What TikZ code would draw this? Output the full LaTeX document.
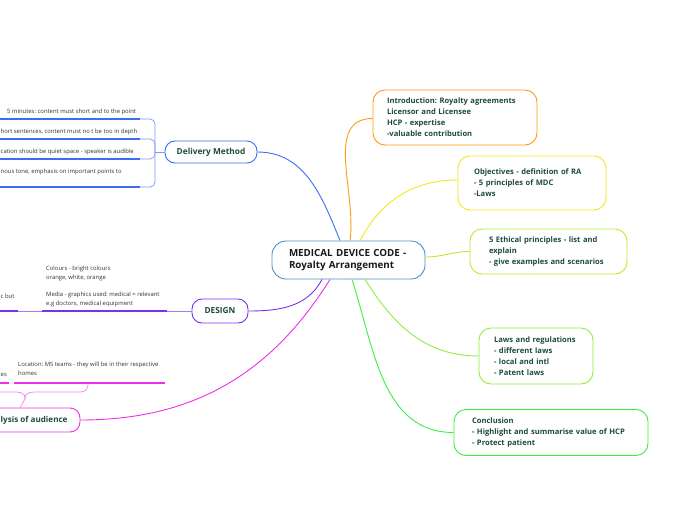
\documentclass[tikz,border=0pt]{standalone}
\usepackage{fontspec}
\setmainfont{Open Sans}
\usetikzlibrary{calc}
\frenchspacing
\definecolor{tgreen}{HTML}{1D4B3A}
\definecolor{tgray}{HTML}{333333}
\definecolor{cblue}{HTML}{3D6CF5}
\definecolor{cbluelt}{HTML}{7E9BF7}
\definecolor{cpurple}{HTML}{7B30EE}
\definecolor{cpurplelt}{HTML}{A37BF3}
\definecolor{cmag}{HTML}{EA30EA}
\definecolor{cmaglt}{HTML}{F080F0}
\definecolor{corange}{HTML}{FF9A10}
\definecolor{cyellow}{HTML}{F5E61A}
\definecolor{cyg}{HTML}{B5EE2A}
\definecolor{clg}{HTML}{8CEE3A}
\definecolor{cgreen}{HTML}{3DEE3D}
\definecolor{ccenter}{HTML}{4A90C8}
\begin{document}
\frenchspacing
\begin{tikzpicture}[x=1pt,y=-1pt,
  topic/.style={draw, line width=0.9pt, rounded corners=12pt, fill=white, align=left,
    text=tgreen, font=\bfseries\fontsize{7.6}{11}\selectfont, inner xsep=14pt, inner ysep=0pt},
  branch/.style={draw, line width=0.9pt, rounded corners=10pt, fill=white, align=center,
    text=tgreen, font=\bfseries\fontsize{8.3}{11}\selectfont, inner sep=0pt},
  sub/.style={inner sep=0pt, font=\fontsize{5.9}{8.7}\selectfont, text=tgray, align=left},
  conn/.style={line width=0.9pt},
  uline/.style={line width=1.6pt},
  bline/.style={line width=0.7pt, rounded corners=5pt}]
\useasboundingbox (0,0) rectangle (697,520);
\clip (0,0) rectangle (697,520);

% central node
\node[draw=ccenter, line width=0.9pt, rounded corners=14pt, fill=white, align=left,
  font=\bfseries\fontsize{9.8}{12}\selectfont, text=black!90,
  minimum width=153pt, minimum height=38pt, text width=119pt, inner xsep=17pt, inner ysep=0pt]
  (center) at (348.5,260) {MEDICAL DEVICE CODE -\\Royalty Arrangement};

% right topics
\node[topic, draw=corange, minimum width=164pt, minimum height=55pt, text width=136pt]
  (intro) at (455,117.5) {Introduction: Royalty agreements\\Licensor and Licensee\\HCP - expertise\\-valuable contribution};
\node[topic, draw=cyellow, minimum width=148pt, minimum height=54pt, text width=116pt, inner xsep=16pt]
  (obj) at (532,183) {Objectives - definition of RA\\- 5 principles of MDC\\-Laws};
\node[topic, draw=cyg, minimum width=157pt, minimum height=45pt, text width=119pt, inner xsep=19pt]
  (eth) at (548.5,251.5) {5 Ethical principles - list and\\explain\\- give examples and scenarios};
\node[topic, draw=clg, minimum width=114pt, minimum height=56pt, text width=84pt, inner xsep=15pt]
  (laws) at (536,356) {Laws and regulations\\- different laws\\- local and intl\\- Patent laws};
\node[topic, draw=cgreen, minimum width=194pt, minimum height=46pt, text width=158pt, inner xsep=18pt]
  (concl) at (551,432.5) {Conclusion\\- Highlight and summarise value of HCP\\- Protect patient};

% left branches
\node[branch, draw=cblue, minimum width=92pt, minimum height=22pt] (deliv) at (211,152) {Delivery Method};
\node[branch, draw=cpurple, minimum width=56pt, minimum height=24pt] (design) at (220,311) {DESIGN};
\node[draw=cmag, line width=0.9pt, rounded corners=10pt, fill=white, minimum width=120pt,
  minimum height=24pt, inner sep=0pt] (aud) at (20,420) {};
\node[anchor=west, inner sep=0pt, text=tgreen, font=\bfseries\fontsize{8.1}{11}\selectfont]
  (audtext) at (0.5,420) {lysis of audience};

% main connectors
\draw[conn, cblue] (deliv.east) to[out=0, in=112] ($(center.north)+(-8.5,0)$);
\draw[conn, corange] ($(center.north)+(1.5,0)$) to[out=82, in=180] ($(intro.west)+(0,1)$);
\draw[conn, cyellow] ($(center.north)+(11.5,0)$) to[out=62, in=180] ($(obj.west)+(0,-3)$);
\draw[conn, cyg] ($(center.east)+(0,-3)$) to[out=0, in=180] (eth.west);
\draw[conn, clg] ($(center.south)+(16.5,0)$) to[out=-58, in=180] (laws.west);
\draw[conn, cgreen] ($(center.south)+(3.5,0)$) to[out=-72, in=180] (concl.west);
\draw[conn, cpurple] (design.east) to[out=0, in=-118] ($(center.south)+(-26.5,0)$);
\draw[conn, cmag] (aud.east) to[out=0, in=-122] ($(center.south)+(-18.5,0)$);

% Delivery Method sub-topics
\node[sub, anchor=west] (d1t) at (7,112) {5 minutes: content must short and to the point};
\node[sub, anchor=west] (d2t) at (0.5,132) {hort sentences, content must no t be too in depth};
\node[sub, anchor=west] (d3t) at (0.5,152) {cation should be quiet space - speaker is audible};
\node[sub, anchor=west] (d4t) at (0.5,172) {nous tone, emphasis on important points to};
\coordinate (d1) at (140,119);
\coordinate (d2) at (140,139);
\coordinate (d3) at (140,159);
\coordinate (d4) at (140,187);
\coordinate (d1l) at (0,119);
\coordinate (d2l) at (0,139);
\coordinate (d3l) at (0,159);
\coordinate (d4l) at (0,187);
\coordinate (dj) at (155,152);
\draw[uline, cblue] (d1l) -- (d1);
\draw[uline, cblue] (d2l) -- (d2);
\draw[uline, cblue] (d3l) -- (d3);
\draw[uline, cblue] (d4l) -- (d4);
\draw[bline, cbluelt] (d1) -| (dj);
\draw[bline, cbluelt] (d2) -| (dj);
\draw[bline, cbluelt] (d3) -| (dj);
\draw[bline, cbluelt] (d4) -| (dj);
\draw[line width=0.9pt, cbluelt] (dj) -- (deliv.west);

% DESIGN sub-topics
\node[sub, anchor=north west] (e1t) at (46,266) {Colours - bright colours\\orange, white, orange\\[8.7pt]Media - graphics used: medical = relevant\\e.g doctors, medical equipment};
\node[sub, anchor=west] (e2t) at (0.5,296) {c but};
\coordinate (e1r) at (167,311);
\coordinate (e1l) at (42,311);
\coordinate (e2r) at (18,311);
\coordinate (e2l) at (0,311);
\draw[line width=0.7pt, cpurplelt] (design.west) -- (e1r);
\draw[uline, cpurple] (e1r) -- (e1l);
\draw[line width=0.7pt, cpurplelt] (e1l) -- (e2r);
\draw[uline, cpurple] (e2r) -- (e2l);

% Analysis of audience sub-topics
\node[sub, anchor=north west] (a1t) at (18,362) {Location: MS teams - they will be in their respective\\homes};
\node[sub, anchor=west] (a2t) at (0.5,375) {es};
\coordinate (a1l) at (14,383);
\coordinate (a1r) at (165,383);
\coordinate (a2l) at (0,383);
\coordinate (a2r) at (9,383);
\coordinate (aj) at (25,399);
\coordinate (ab) at (88,383);
\coordinate (aleft) at (0,392);
\draw[uline, cmag] (a1l) -- (a1r);
\draw[uline, cmag] (a2l) -- (a2r);
\draw[line width=0.7pt, cmaglt] (aud.north) -- (aj);
\draw[line width=0.7pt, cmaglt] (aj) .. controls (25,392) and (30,392) .. (40,392) -- (78,392) .. controls (86,392) and (88,390) .. (ab);
\draw[line width=0.7pt, cmaglt] (aj) .. controls (25,392) and (20,392) .. (12,392) -- (aleft);
\end{tikzpicture}
\end{document}
